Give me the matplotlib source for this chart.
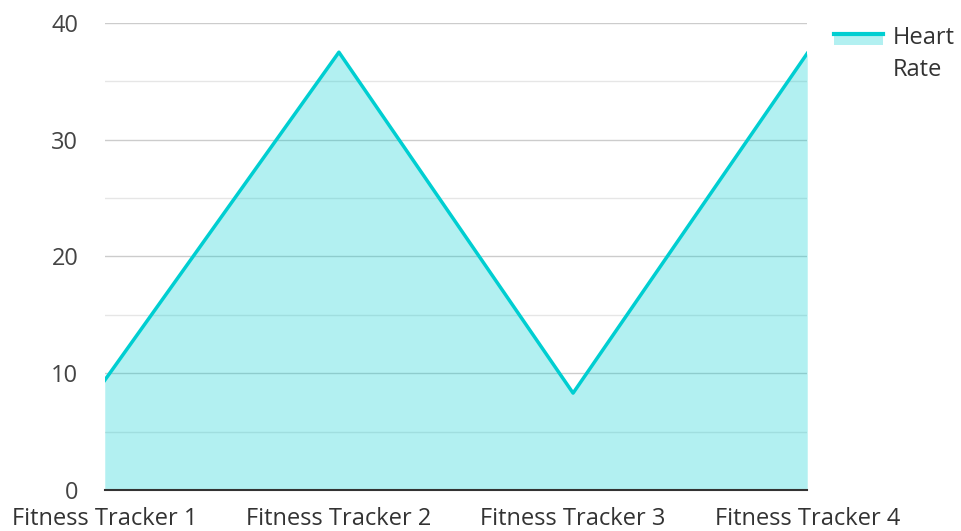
import matplotlib.pyplot as plt
from matplotlib.lines import Line2D
from matplotlib.patches import Rectangle
from matplotlib.legend_handler import HandlerBase

trackers = ["Fitness Tracker 1", "Fitness Tracker 2", "Fitness Tracker 3", "Fitness Tracker 4"]
heart_rate = [9.4, 37.5, 8.3, 37.4]

plt.rcParams['font.family'] = ['Open Sans', 'DejaVu Sans']

line_color = '#00CED1'
fs = 17


class AreaHandler(HandlerBase):
    # swatch sits next to the first line of a two-line label
    def __init__(self, lift):
        super().__init__()
        self.lift = lift

    def create_artists(self, legend, orig_handle, xdescent, ydescent, width, height, fontsize, trans):
        y0 = height / 2 - ydescent + self.lift
        rect = Rectangle((-xdescent, y0 - 0.45 * fontsize), width, 0.45 * fontsize,
                         facecolor=line_color, alpha=0.3, edgecolor='none', transform=trans)
        ln = Line2D([-xdescent, -xdescent + width], [y0, y0], color=line_color,
                    linewidth=3, transform=trans)
        return [rect, ln]


fig = plt.figure(figsize=(9.61, 5.31), dpi=100)
ax = fig.add_axes([0.109, 0.0772, 0.731, 0.8795])

x = range(len(trackers))
ax.fill_between(x, heart_rate, 0, color=line_color, alpha=0.3, linewidth=0, zorder=2)
line, = ax.plot(x, heart_rate, color=line_color, linewidth=2.5, zorder=3)

ax.set_xlim(0, len(trackers) - 1)
ax.set_ylim(0, 40)
ax.set_yticks([0, 10, 20, 30, 40])
ax.set_yticks([5, 15, 25, 35], minor=True)
ax.set_xticks(list(x))
ax.set_xticklabels(trackers)

ax.grid(axis='y', which='major', color='#cccccc', linewidth=1, zorder=1)
ax.grid(axis='y', which='minor', color='#e6e6e6', linewidth=1, zorder=1)
ax.set_axisbelow(True)

for s in ['top', 'right', 'left']:
    ax.spines[s].set_visible(False)
ax.spines['bottom'].set_color('#333333')
ax.spines['bottom'].set_linewidth(1.5)
ax.spines['bottom'].set_zorder(4)

ax.tick_params(axis='both', which='both', length=0, labelsize=fs, labelcolor='#444444')
ax.tick_params(axis='y', pad=19)
ax.tick_params(axis='x', pad=12)
for t in ax.get_xticklabels():
    t.set_color('#333333')

leg = ax.legend([line], ["Heart\nRate"], loc='upper left', bbox_to_anchor=(1.024, 1.013),
                frameon=False, fontsize=fs, handlelength=2.1, handletextpad=0.42,
                borderaxespad=0, handler_map={Line2D: AreaHandler(lift=0.88 * fs)})
for t in leg.get_texts():
    t.set_color('#333333')
    t.set_linespacing(1.45)

fig.savefig("out.png", dpi=100)
